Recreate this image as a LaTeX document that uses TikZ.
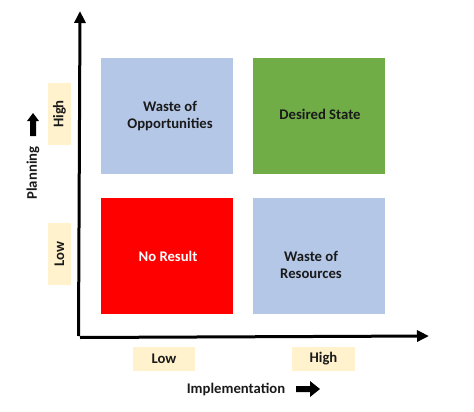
\documentclass[tikz,border=0pt]{standalone}
\usepackage{fontspec}
\setmainfont{Carlito}
\usetikzlibrary{arrows.meta}
\definecolor{qblue}{HTML}{B4C7E7}
\definecolor{qgreen}{HTML}{70AD47}
\definecolor{qred}{HTML}{FF0000}
\definecolor{lblbg}{HTML}{FFF2CC}
\definecolor{txt}{HTML}{1A1A1A}
\begin{document}
\begin{tikzpicture}[x=1pt,y=-1pt,
  quad/.style={minimum width=132pt,minimum height=116pt,inner sep=0pt,align=center,
    font=\fontsize{14.7}{17.5}\selectfont\bfseries,text=txt},
  lbl/.style={fill=lblbg,inner sep=0pt,font=\fontsize{14.7}{17}\selectfont\bfseries,text=txt},
  axtitle/.style={inner sep=0pt,font=\fontsize{14.7}{17}\selectfont\bfseries,text=txt},
  axis/.style={line width=3pt,-{Triangle[length=12pt,width=11pt]}}]
\useasboundingbox (0,0) rectangle (474,412);
% quadrants
\node[quad,fill=qblue] (wo) at (167,116) {};
\node[quad,fill=qgreen] (ds) at (319,116) {};
\node[quad,fill=qred] (nr) at (167,255.5) {};
\node[quad,fill=qblue] (wr) at (319,255.5) {};
\node[quad,minimum width=0pt,minimum height=0pt] (wot) at (170,116) {Waste of\\Opportunities};
\node[quad,minimum width=0pt,minimum height=0pt] (dst) at (320,114.5) {Desired State};
\node[quad,minimum width=0pt,minimum height=0pt,text=white] (nrt) at (168,256) {No Result};
\node[quad,minimum width=0pt,minimum height=0pt] (wrt) at (311,265) {Waste of\\Resources};
% axes
\coordinate (o) at (80,336);
\coordinate (ytop) at (80,11);
\coordinate (xend) at (429,336);
\draw[axis] ([xshift=-1.5pt]o) -- (ytop);
\draw[axis] ([yshift=-1.5pt]o) -- (xend);
% y labels
\node[lbl,minimum width=23pt,minimum height=62pt] (yh) at (59.5,114) {};
\node[axtitle,rotate=90] (yht) at (59.5,114) {High};
\node[lbl,minimum width=23pt,minimum height=62pt] (yl) at (59.5,254) {};
\node[axtitle,rotate=90] (ylt) at (59.5,254) {Low};
\node[axtitle,rotate=90] (plan) at (33,173) {Planning};
\fill[black] (30,136) -- (30,121) -- (27,121) -- (33,113) -- (39,121) -- (36,121) -- (36,136) -- cycle;
% x labels
\node[lbl,minimum width=62pt,minimum height=24pt] (xl) at (164,359) {Low};
\node[lbl,minimum width=63pt,minimum height=24pt] (xh) at (323.5,359) {High};
\node[axtitle] (impl) at (236,389) {Implementation};
\fill[black] (296,386) -- (310,386) -- (310,381) -- (320,389) -- (310,397) -- (310,392) -- (296,392) -- cycle;
\end{tikzpicture}
\end{document}
